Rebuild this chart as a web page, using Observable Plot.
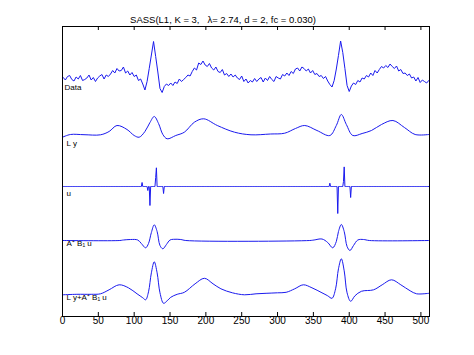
<!DOCTYPE html>
<html><head><meta charset="utf-8">
<script src="https://cdn.jsdelivr.net/npm/d3@7"></script>
<script src="https://cdn.jsdelivr.net/npm/@observablehq/plot@0.6"></script>
<style>body{margin:0;background:#fff}</style>
</head><body><div id="chart"></div>
<script>
const titleText = "SASS(L1, K = 3,\u00a0\u00a0 \u03bb= 2.74, d = 2, fc = 0.030)";
const xTicks = [0, 50, 100, 150, 200, 250, 300, 350, 400, 450, 500];
const traceLabels = ["Data", "L y", "u", "A\u207a B\u2081 u", "L y+A\u207a B\u2081 u"];
const traceOffsets = [23.8, 17.9, 13.0, 7.6, 2.17];

// noisy observed signal, sampled every 3rd index starting at 1
const dataValues = [
  0.1, -0.15, 0.2, 0.3, -0.1, -0.25, 0.15, -0.05, 0.3, -0.2,
  -0.1, 0.05, 0.35, -0.15, 0.1, -0.3, 0.05, 0.25, 0.4, -0.05,
  0.35, 0.2, 0.45, 0.8, 0.55, 1.0, 0.75, 0.8, 1.15, 0.55,
  0.75, 0.35, 0.6, 0.2, 0.35, -0.2, -0.05, -0.55, -1.15, -0.3,
  1.0, 2.35, 3.7, 2.2, 0.65, -1.0, -1.4, -0.8, -0.55, -0.7,
  -0.45, -0.7, -0.35, -0.5, -0.05, -0.3, -0.1, 0.1, 0.35, 0.25,
  0.7, 1.05, 0.85, 1.55, 1.4, 1.75, 1.35, 1.2, 1.5, 1.05,
  0.85, 1.15, 0.7, 0.6, 0.9, 0.35, 0.5, 0.2, 0.45, 0.15,
  0.35, 0.05, -0.1, 0.25, -0.3, -0.05, -0.45, -0.2, -0.35, 0.0,
  -0.3, -0.05, 0.1, -0.35, 0.05, -0.2, 0.2, -0.1, -0.3, 0.2,
  0.05, -0.05, 0.4, 0.25, 0.55, 0.3, 0.7, 0.5, 0.95, 1.05,
  0.75, 1.15, 1.0, 0.75, 0.95, 0.55, 0.8, 0.4, 0.5, 0.2,
  0.3, 0.0, 0.2, -0.25, -0.6, -0.85, -0.2, 0.95, 2.3, 3.75,
  2.6, 1.0, -0.7, -1.3, -0.75, -0.45, -0.6, -0.2, -0.35, 0.05,
  -0.05, 0.3, 0.15, 0.55, 0.3, 0.8, 0.55, 0.9, 1.2, 1.05,
  1.3, 1.1, 1.45, 1.2, 1.0, 1.25, 0.75, 0.9, 0.5, 0.55,
  0.3, 0.45, 0.05, 0.15, -0.25, 0.1, -0.4, -0.15, -0.3, -0.45,
  -0.2
];
const dataX = d3.range(1, 512, 3);

const lyX = [0, 11, 30, 53, 65, 76, 90, 100, 107, 115, 122, 128, 134, 140, 146, 158, 170, 184, 197, 216, 240, 263, 290, 310, 325, 338, 355, 373, 382, 389, 396, 405, 418, 431, 445, 461, 477, 492, 511];
const lyValues = [0.03, 0.3, 0.28, 0.27, 0.6, 1.2, 0.8, 0.2, 0.03, 0.6, 1.5, 2.1, 1.4, 0.3, -0.13, 0.2, 0.53, 1.53, 1.87, 1.2, 0.53, 0.27, 0.35, 0.43, 0.9, 1.2, 0.7, 0.2, 1.2, 2.3, 1.3, 0.2, 0.4, 0.7, 1.3, 1.7, 1.0, 0.3, 0.3];

const uLength = 512;
const uSpikeX = [111, 119, 122, 130, 131, 141, 373, 384, 392, 393, 402];
const uSpikeValues = [0.4, -0.4, -1.9, 0.9, 1.87, -0.7, 0.33, -2.7, 0.5, 1.96, -1.1];

const abX = [0, 80, 85, 95, 105, 110, 116, 120, 124, 128, 132, 136, 140, 145, 150, 155, 165, 172, 345, 351, 362, 370, 377, 382, 385, 389, 393, 397, 401, 406, 412, 420, 428, 511];
const abValues = [0, 0, 0.05, 0.1, 0.05, -0.3, -0.73, -0.3, 0.8, 1.57, 0.9, -0.5, -0.83, -0.4, 0.05, 0.12, 0.1, 0, 0, 0.05, 0.15, -0.2, -0.73, -0.1, 0.9, 1.6, 0.9, -0.6, -1.0, -0.5, 0.05, 0.1, 0, 0];

const sumX = [0, 20, 40, 53, 65, 79, 92, 104, 112, 116, 120, 124, 128, 132, 136, 141, 146, 151, 160, 170, 185, 198, 210, 221, 237, 254, 270, 284, 300, 312, 324, 336, 348, 362, 370, 376, 381, 385, 389, 393, 397, 402, 408, 417, 434, 446, 459, 472, 485, 494, 511];
const sumValues = [0, 0.05, 0.05, 0.1, 0.5, 1.0, 0.7, 0.1, -0.3, -0.5, 0.3, 2.2, 3.3, 2.2, 0.2, -0.85, -0.6, -0.25, 0.05, 0.25, 1.1, 1.65, 1.1, 0.6, 0.2, 0, 0.1, 0.15, 0.2, 0.25, 0.6, 1.0, 0.7, 0.2, -0.1, -0.35, 0.6, 2.6, 3.6, 2.4, 0.2, -0.65, -0.1, 0.35, 0.5, 1.0, 1.5, 1.0, 0.4, 0.1, 0.15];

// build tables
const dataRows = dataValues.map((v, i) => ({x: dataX[i], y: traceOffsets[0] + v}));
const lyRows = lyValues.map((v, i) => ({x: lyX[i], y: traceOffsets[1] + v}));
const uArr = new Array(uLength).fill(0);
uSpikeX.forEach((p, i) => { uArr[p] = uSpikeValues[i]; });
const uRows = uArr.map((v, i) => ({x: i, y: traceOffsets[2] + v}));
const abRows = abValues.map((v, i) => ({x: abX[i], y: traceOffsets[3] + v}));
const sumRows = sumValues.map((v, i) => ({x: sumX[i], y: traceOffsets[4] + v}));

const W = 474, H = 355, mT = 26, mB = 39, mL = 62, mR = 45;
const innerH = H - mT - mB;
const tickLen = 4;
const lineColor = "#1a1aee";
const labelDy = [9, 6, 7, 3, 3];
const labelDx = [2, 4, 4, 4, 4];

const marks = [
  Plot.line(dataRows, {x: "x", y: "y", stroke: lineColor, strokeWidth: 1}),
  Plot.line(lyRows, {x: "x", y: "y", stroke: lineColor, strokeWidth: 1, curve: "catmull-rom"}),
  Plot.line(uRows, {x: "x", y: "y", stroke: lineColor, strokeWidth: 1}),
  Plot.line(abRows, {x: "x", y: "y", stroke: lineColor, strokeWidth: 1, curve: "catmull-rom"}),
  Plot.line(sumRows, {x: "x", y: "y", stroke: lineColor, strokeWidth: 1, curve: "catmull-rom"}),
  Plot.frame({stroke: "black"}),
  Plot.tickX(xTicks, {x: d => d, insetTop: innerH - tickLen, stroke: "black"}),
  Plot.tickX(xTicks, {x: d => d, insetBottom: innerH - tickLen, stroke: "black"}),
  Plot.text(xTicks, {x: d => d, frameAnchor: "bottom", dy: 7, text: d => String(d), fontSize: 10, fill: "black"}),
  Plot.text([titleText], {frameAnchor: "top", text: d => d, dy: -10, dx: -23, fontSize: 9.5, fill: "black"})
];
traceLabels.forEach((t, i) => {
  marks.push(Plot.text([t], {y: () => traceOffsets[i], text: d => d, frameAnchor: "left", textAnchor: "start", dx: labelDx[i], dy: labelDy[i], fontSize: 8, fill: "black"}));
});

const chart = Plot.plot({
  width: W, height: H,
  marginTop: mT, marginBottom: mB, marginLeft: mL, marginRight: mR,
  style: {fontFamily: "'Liberation Sans', Arial, sans-serif", background: "#fff", overflow: "visible"},
  x: {domain: [0, 512], axis: null},
  y: {domain: [0, 29], axis: null},
  marks
});
document.getElementById("chart").appendChild(chart);
</script>
</body></html>
